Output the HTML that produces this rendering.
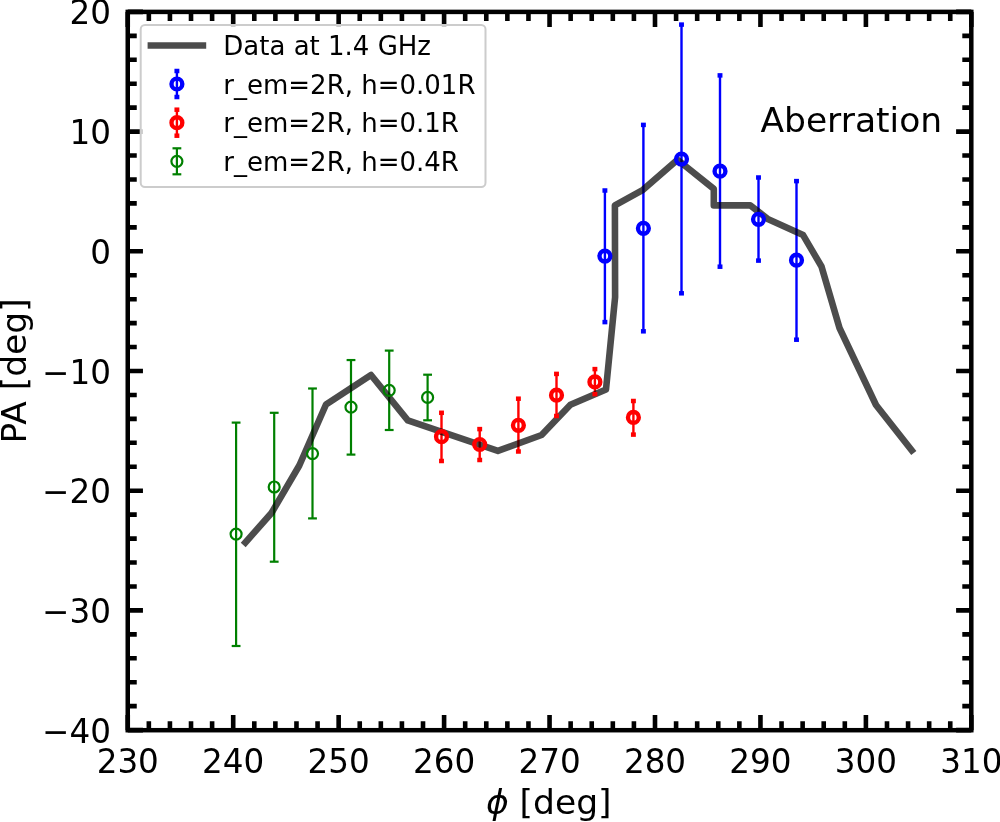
<!DOCTYPE html>
<html><head><meta charset="utf-8"><title>PA vs phi</title>
<style>html,body{margin:0;padding:0;background:#fff;} svg{display:block;} text{font-family:'DejaVu Sans', 'Liberation Sans', sans-serif;fill:#000;}</style>
</head><body>
<svg width="1000" height="822" viewBox="0 0 1000 822">
<rect x="0" y="0" width="1000" height="822" fill="#fff"/>
<line x1="236.1" y1="422.6" x2="236.1" y2="646" stroke="#008000" stroke-width="2.2"/>
<line x1="274.2" y1="412.8" x2="274.2" y2="561.7" stroke="#008000" stroke-width="2.2"/>
<line x1="312.5" y1="388.5" x2="312.5" y2="518.4" stroke="#008000" stroke-width="2.2"/>
<line x1="351" y1="360.05" x2="351" y2="454.6" stroke="#008000" stroke-width="2.2"/>
<line x1="389.2" y1="350.6" x2="389.2" y2="430" stroke="#008000" stroke-width="2.2"/>
<line x1="427.6" y1="374.7" x2="427.6" y2="420.3" stroke="#008000" stroke-width="2.2"/>
<line x1="441.5" y1="412.8" x2="441.5" y2="461" stroke="#ff0000" stroke-width="2.4"/>
<line x1="479.7" y1="429.1" x2="479.7" y2="460" stroke="#ff0000" stroke-width="2.4"/>
<line x1="518.4" y1="398.7" x2="518.4" y2="451.5" stroke="#ff0000" stroke-width="2.4"/>
<line x1="556.5" y1="373.9" x2="556.5" y2="416" stroke="#ff0000" stroke-width="2.4"/>
<line x1="594.9" y1="369.1" x2="594.9" y2="394.1" stroke="#ff0000" stroke-width="2.4"/>
<line x1="633.4" y1="401" x2="633.4" y2="434.6" stroke="#ff0000" stroke-width="2.4"/>
<line x1="604.9" y1="190.5" x2="604.9" y2="322.1" stroke="#0000ff" stroke-width="2.4"/>
<line x1="643.4" y1="124.9" x2="643.4" y2="331.3" stroke="#0000ff" stroke-width="2.4"/>
<line x1="681.5" y1="24.6" x2="681.5" y2="293.3" stroke="#0000ff" stroke-width="2.4"/>
<line x1="720" y1="75.4" x2="720" y2="266.7" stroke="#0000ff" stroke-width="2.4"/>
<line x1="758.5" y1="177.5" x2="758.5" y2="260.6" stroke="#0000ff" stroke-width="2.4"/>
<line x1="796.5" y1="181.1" x2="796.5" y2="339.7" stroke="#0000ff" stroke-width="2.4"/>
<polyline points="243.2,545.0 271.5,513 299.3,465.5 326,404.5 371,375 407.8,420.3 497.9,450.9 541.6,435 570.4,404.8 606,389.5 615.1,297.2 614.9,205.3 643,189.8 677.5,159.8 713.8,188.9 713.8,205.4 750.3,205.4 768.3,219.3 803.1,235.1 821.5,266.5 839.5,328 876,405 913.8,453" fill="none" stroke="#000" stroke-opacity="0.7" stroke-width="6.6" stroke-linejoin="round" stroke-linecap="butt"/>
<line x1="231.7" y1="422.6" x2="240.5" y2="422.6" stroke="#008000" stroke-width="2.2"/>
<line x1="231.7" y1="646" x2="240.5" y2="646" stroke="#008000" stroke-width="2.2"/>
<line x1="269.8" y1="412.8" x2="278.59999999999997" y2="412.8" stroke="#008000" stroke-width="2.2"/>
<line x1="269.8" y1="561.7" x2="278.59999999999997" y2="561.7" stroke="#008000" stroke-width="2.2"/>
<line x1="308.1" y1="388.5" x2="316.9" y2="388.5" stroke="#008000" stroke-width="2.2"/>
<line x1="308.1" y1="518.4" x2="316.9" y2="518.4" stroke="#008000" stroke-width="2.2"/>
<line x1="346.6" y1="360.05" x2="355.4" y2="360.05" stroke="#008000" stroke-width="2.2"/>
<line x1="346.6" y1="454.6" x2="355.4" y2="454.6" stroke="#008000" stroke-width="2.2"/>
<line x1="384.8" y1="350.6" x2="393.59999999999997" y2="350.6" stroke="#008000" stroke-width="2.2"/>
<line x1="384.8" y1="430" x2="393.59999999999997" y2="430" stroke="#008000" stroke-width="2.2"/>
<line x1="423.20000000000005" y1="374.7" x2="432.0" y2="374.7" stroke="#008000" stroke-width="2.2"/>
<line x1="423.20000000000005" y1="420.3" x2="432.0" y2="420.3" stroke="#008000" stroke-width="2.2"/>
<rect x="439.05" y="410.55" width="4.9" height="4.5" fill="#ff0000"/>
<rect x="439.05" y="458.75" width="4.9" height="4.5" fill="#ff0000"/>
<rect x="477.25" y="426.85" width="4.9" height="4.5" fill="#ff0000"/>
<rect x="477.25" y="457.75" width="4.9" height="4.5" fill="#ff0000"/>
<rect x="515.9499999999999" y="396.45" width="4.9" height="4.5" fill="#ff0000"/>
<rect x="515.9499999999999" y="449.25" width="4.9" height="4.5" fill="#ff0000"/>
<rect x="554.05" y="371.65" width="4.9" height="4.5" fill="#ff0000"/>
<rect x="554.05" y="413.75" width="4.9" height="4.5" fill="#ff0000"/>
<rect x="592.4499999999999" y="366.85" width="4.9" height="4.5" fill="#ff0000"/>
<rect x="592.4499999999999" y="391.85" width="4.9" height="4.5" fill="#ff0000"/>
<rect x="630.9499999999999" y="398.75" width="4.9" height="4.5" fill="#ff0000"/>
<rect x="630.9499999999999" y="432.35" width="4.9" height="4.5" fill="#ff0000"/>
<rect x="602.4499999999999" y="188.25" width="4.9" height="4.5" fill="#0000ff"/>
<rect x="602.4499999999999" y="319.85" width="4.9" height="4.5" fill="#0000ff"/>
<rect x="640.9499999999999" y="122.65" width="4.9" height="4.5" fill="#0000ff"/>
<rect x="640.9499999999999" y="329.05" width="4.9" height="4.5" fill="#0000ff"/>
<rect x="679.05" y="22.35" width="4.9" height="4.5" fill="#0000ff"/>
<rect x="679.05" y="291.05" width="4.9" height="4.5" fill="#0000ff"/>
<rect x="717.55" y="73.15" width="4.9" height="4.5" fill="#0000ff"/>
<rect x="717.55" y="264.45" width="4.9" height="4.5" fill="#0000ff"/>
<rect x="756.05" y="175.25" width="4.9" height="4.5" fill="#0000ff"/>
<rect x="756.05" y="258.35" width="4.9" height="4.5" fill="#0000ff"/>
<rect x="794.05" y="178.85" width="4.9" height="4.5" fill="#0000ff"/>
<rect x="794.05" y="337.45" width="4.9" height="4.5" fill="#0000ff"/>
<circle cx="236.1" cy="534.1" r="5.5" fill="none" stroke="#008000" stroke-width="2.2"/>
<circle cx="274.2" cy="487" r="5.5" fill="none" stroke="#008000" stroke-width="2.2"/>
<circle cx="312.5" cy="453.6" r="5.5" fill="none" stroke="#008000" stroke-width="2.2"/>
<circle cx="351" cy="407.2" r="5.5" fill="none" stroke="#008000" stroke-width="2.2"/>
<circle cx="389.2" cy="390.3" r="5.5" fill="none" stroke="#008000" stroke-width="2.2"/>
<circle cx="427.6" cy="397.4" r="5.5" fill="none" stroke="#008000" stroke-width="2.2"/>
<circle cx="441.5" cy="436.7" r="5.4" fill="none" stroke="#ff0000" stroke-width="4.4"/>
<circle cx="479.7" cy="444.5" r="5.4" fill="none" stroke="#ff0000" stroke-width="4.4"/>
<circle cx="518.4" cy="425.3" r="5.4" fill="none" stroke="#ff0000" stroke-width="4.4"/>
<circle cx="556.5" cy="395.2" r="5.4" fill="none" stroke="#ff0000" stroke-width="4.4"/>
<circle cx="594.9" cy="381.9" r="5.4" fill="none" stroke="#ff0000" stroke-width="4.4"/>
<circle cx="633.4" cy="417.4" r="5.4" fill="none" stroke="#ff0000" stroke-width="4.4"/>
<circle cx="604.9" cy="256.1" r="5.4" fill="none" stroke="#0000ff" stroke-width="4.4"/>
<circle cx="643.4" cy="228.3" r="5.4" fill="none" stroke="#0000ff" stroke-width="4.4"/>
<circle cx="681.5" cy="159.1" r="5.4" fill="none" stroke="#0000ff" stroke-width="4.4"/>
<circle cx="720" cy="171.2" r="5.4" fill="none" stroke="#0000ff" stroke-width="4.4"/>
<circle cx="758.5" cy="219.3" r="5.4" fill="none" stroke="#0000ff" stroke-width="4.4"/>
<circle cx="796.5" cy="260.2" r="5.4" fill="none" stroke="#0000ff" stroke-width="4.4"/>
<path d="M127.75,730.2V715.00M127.75,11.9V27.10M148.84,730.2V721.20M148.84,11.9V20.90M169.93,730.2V721.20M169.93,11.9V20.90M191.02,730.2V721.20M191.02,11.9V20.90M212.11,730.2V721.20M212.11,11.9V20.90M233.20,730.2V715.00M233.20,11.9V27.10M254.29,730.2V721.20M254.29,11.9V20.90M275.38,730.2V721.20M275.38,11.9V20.90M296.47,730.2V721.20M296.47,11.9V20.90M317.56,730.2V721.20M317.56,11.9V20.90M338.65,730.2V715.00M338.65,11.9V27.10M359.74,730.2V721.20M359.74,11.9V20.90M380.83,730.2V721.20M380.83,11.9V20.90M401.92,730.2V721.20M401.92,11.9V20.90M423.01,730.2V721.20M423.01,11.9V20.90M444.10,730.2V715.00M444.10,11.9V27.10M465.19,730.2V721.20M465.19,11.9V20.90M486.28,730.2V721.20M486.28,11.9V20.90M507.37,730.2V721.20M507.37,11.9V20.90M528.46,730.2V721.20M528.46,11.9V20.90M549.55,730.2V715.00M549.55,11.9V27.10M570.64,730.2V721.20M570.64,11.9V20.90M591.73,730.2V721.20M591.73,11.9V20.90M612.82,730.2V721.20M612.82,11.9V20.90M633.91,730.2V721.20M633.91,11.9V20.90M655.00,730.2V715.00M655.00,11.9V27.10M676.09,730.2V721.20M676.09,11.9V20.90M697.18,730.2V721.20M697.18,11.9V20.90M718.27,730.2V721.20M718.27,11.9V20.90M739.36,730.2V721.20M739.36,11.9V20.90M760.45,730.2V715.00M760.45,11.9V27.10M781.54,730.2V721.20M781.54,11.9V20.90M802.63,730.2V721.20M802.63,11.9V20.90M823.72,730.2V721.20M823.72,11.9V20.90M844.81,730.2V721.20M844.81,11.9V20.90M865.90,730.2V715.00M865.90,11.9V27.10M886.99,730.2V721.20M886.99,11.9V20.90M908.08,730.2V721.20M908.08,11.9V20.90M929.17,730.2V721.20M929.17,11.9V20.90M950.26,730.2V721.20M950.26,11.9V20.90M971.35,730.2V715.00M971.35,11.9V27.10M127.75,730.10H142.95M971.3,730.10H956.10M127.75,706.16H136.75M971.3,706.16H962.30M127.75,682.22H136.75M971.3,682.22H962.30M127.75,658.28H136.75M971.3,658.28H962.30M127.75,634.34H136.75M971.3,634.34H962.30M127.75,610.40H142.95M971.3,610.40H956.10M127.75,586.46H136.75M971.3,586.46H962.30M127.75,562.52H136.75M971.3,562.52H962.30M127.75,538.58H136.75M971.3,538.58H962.30M127.75,514.64H136.75M971.3,514.64H962.30M127.75,490.70H142.95M971.3,490.70H956.10M127.75,466.76H136.75M971.3,466.76H962.30M127.75,442.82H136.75M971.3,442.82H962.30M127.75,418.88H136.75M971.3,418.88H962.30M127.75,394.94H136.75M971.3,394.94H962.30M127.75,371.00H142.95M971.3,371.00H956.10M127.75,347.06H136.75M971.3,347.06H962.30M127.75,323.12H136.75M971.3,323.12H962.30M127.75,299.18H136.75M971.3,299.18H962.30M127.75,275.24H136.75M971.3,275.24H962.30M127.75,251.30H142.95M971.3,251.30H956.10M127.75,227.36H136.75M971.3,227.36H962.30M127.75,203.42H136.75M971.3,203.42H962.30M127.75,179.48H136.75M971.3,179.48H962.30M127.75,155.54H136.75M971.3,155.54H962.30M127.75,131.60H142.95M971.3,131.60H956.10M127.75,107.66H136.75M971.3,107.66H962.30M127.75,83.72H136.75M971.3,83.72H962.30M127.75,59.78H136.75M971.3,59.78H962.30M127.75,35.84H136.75M971.3,35.84H962.30M127.75,11.90H142.95M971.3,11.90H956.10" stroke="#000" stroke-width="4.6" fill="none"/>
<rect x="127.75" y="11.9" width="843.55" height="718.3000000000001" fill="none" stroke="#000" stroke-width="4.5" stroke-linejoin="miter"/>
<rect x="140.7" y="25.0" width="344.8" height="162" rx="4.3" ry="4.3" fill="#fff" fill-opacity="0.8" stroke="#cccccc" stroke-width="2"/>
<line x1="147.6" y1="45.5" x2="206.2" y2="45.5" stroke="#000" stroke-opacity="0.7" stroke-width="6.6"/>
<line x1="176.9" y1="71.0" x2="176.9" y2="97.0" stroke="#0000ff" stroke-width="2.4"/>
<rect x="174.45000000000002" y="68.75" width="4.9" height="4.5" fill="#0000ff"/>
<rect x="174.45000000000002" y="94.75" width="4.9" height="4.5" fill="#0000ff"/>
<circle cx="176.9" cy="84.0" r="5.4" fill="none" stroke="#0000ff" stroke-width="4.4"/>
<line x1="176.9" y1="109.7" x2="176.9" y2="135.7" stroke="#ff0000" stroke-width="2.4"/>
<rect x="174.45000000000002" y="107.45" width="4.9" height="4.5" fill="#ff0000"/>
<rect x="174.45000000000002" y="133.45" width="4.9" height="4.5" fill="#ff0000"/>
<circle cx="176.9" cy="122.7" r="5.4" fill="none" stroke="#ff0000" stroke-width="4.4"/>
<line x1="176.9" y1="148.3" x2="176.9" y2="174.3" stroke="#008000" stroke-width="2.2"/>
<line x1="172.5" y1="148.3" x2="181.3" y2="148.3" stroke="#008000" stroke-width="2.2"/>
<line x1="172.5" y1="174.3" x2="181.3" y2="174.3" stroke="#008000" stroke-width="2.2"/>
<circle cx="176.9" cy="161.3" r="5.5" fill="none" stroke="#008000" stroke-width="2.2"/>
<text x="223.3" y="54.9" font-size="26">Data at 1.4 GHz</text>
<text x="223.3" y="93.5" font-size="26">r_em=2R, h=0.01R</text>
<text x="223.3" y="132.1" font-size="26">r_em=2R, h=0.1R</text>
<text x="223.3" y="170.7" font-size="26">r_em=2R, h=0.4R</text>
<text transform="translate(127.75,772.8) scale(1,1.02)" font-size="32.6" text-anchor="middle">230</text>
<text transform="translate(233.20,772.8) scale(1,1.02)" font-size="32.6" text-anchor="middle">240</text>
<text transform="translate(338.65,772.8) scale(1,1.02)" font-size="32.6" text-anchor="middle">250</text>
<text transform="translate(444.10,772.8) scale(1,1.02)" font-size="32.6" text-anchor="middle">260</text>
<text transform="translate(549.55,772.8) scale(1,1.02)" font-size="32.6" text-anchor="middle">270</text>
<text transform="translate(655.00,772.8) scale(1,1.02)" font-size="32.6" text-anchor="middle">280</text>
<text transform="translate(760.45,772.8) scale(1,1.02)" font-size="32.6" text-anchor="middle">290</text>
<text transform="translate(865.90,772.8) scale(1,1.02)" font-size="32.6" text-anchor="middle">300</text>
<text transform="translate(971.35,772.8) scale(1,1.02)" font-size="32.6" text-anchor="middle">310</text>
<text transform="translate(111,742.60) scale(1,1.02)" font-size="32.6" text-anchor="end">−40</text>
<text transform="translate(111,622.90) scale(1,1.02)" font-size="32.6" text-anchor="end">−30</text>
<text transform="translate(111,503.20) scale(1,1.02)" font-size="32.6" text-anchor="end">−20</text>
<text transform="translate(111,383.50) scale(1,1.02)" font-size="32.6" text-anchor="end">−10</text>
<text transform="translate(111,263.80) scale(1,1.02)" font-size="32.6" text-anchor="end">0</text>
<text transform="translate(111,144.10) scale(1,1.02)" font-size="32.6" text-anchor="end">10</text>
<text transform="translate(111,24.40) scale(1,1.02)" font-size="32.6" text-anchor="end">20</text>
<text x="760.4" y="131.7" font-size="34.5">Aberration</text>
<text x="486.0" y="813.6" font-size="34.5" font-style="italic">ϕ</text>
<text x="519.6" y="813.6" font-size="34.5">[deg]</text>
<text transform="translate(26.2,370.9) rotate(-90)" x="0" y="0" font-size="34.5" text-anchor="middle">PA [deg]</text>
</svg>
</body></html>
